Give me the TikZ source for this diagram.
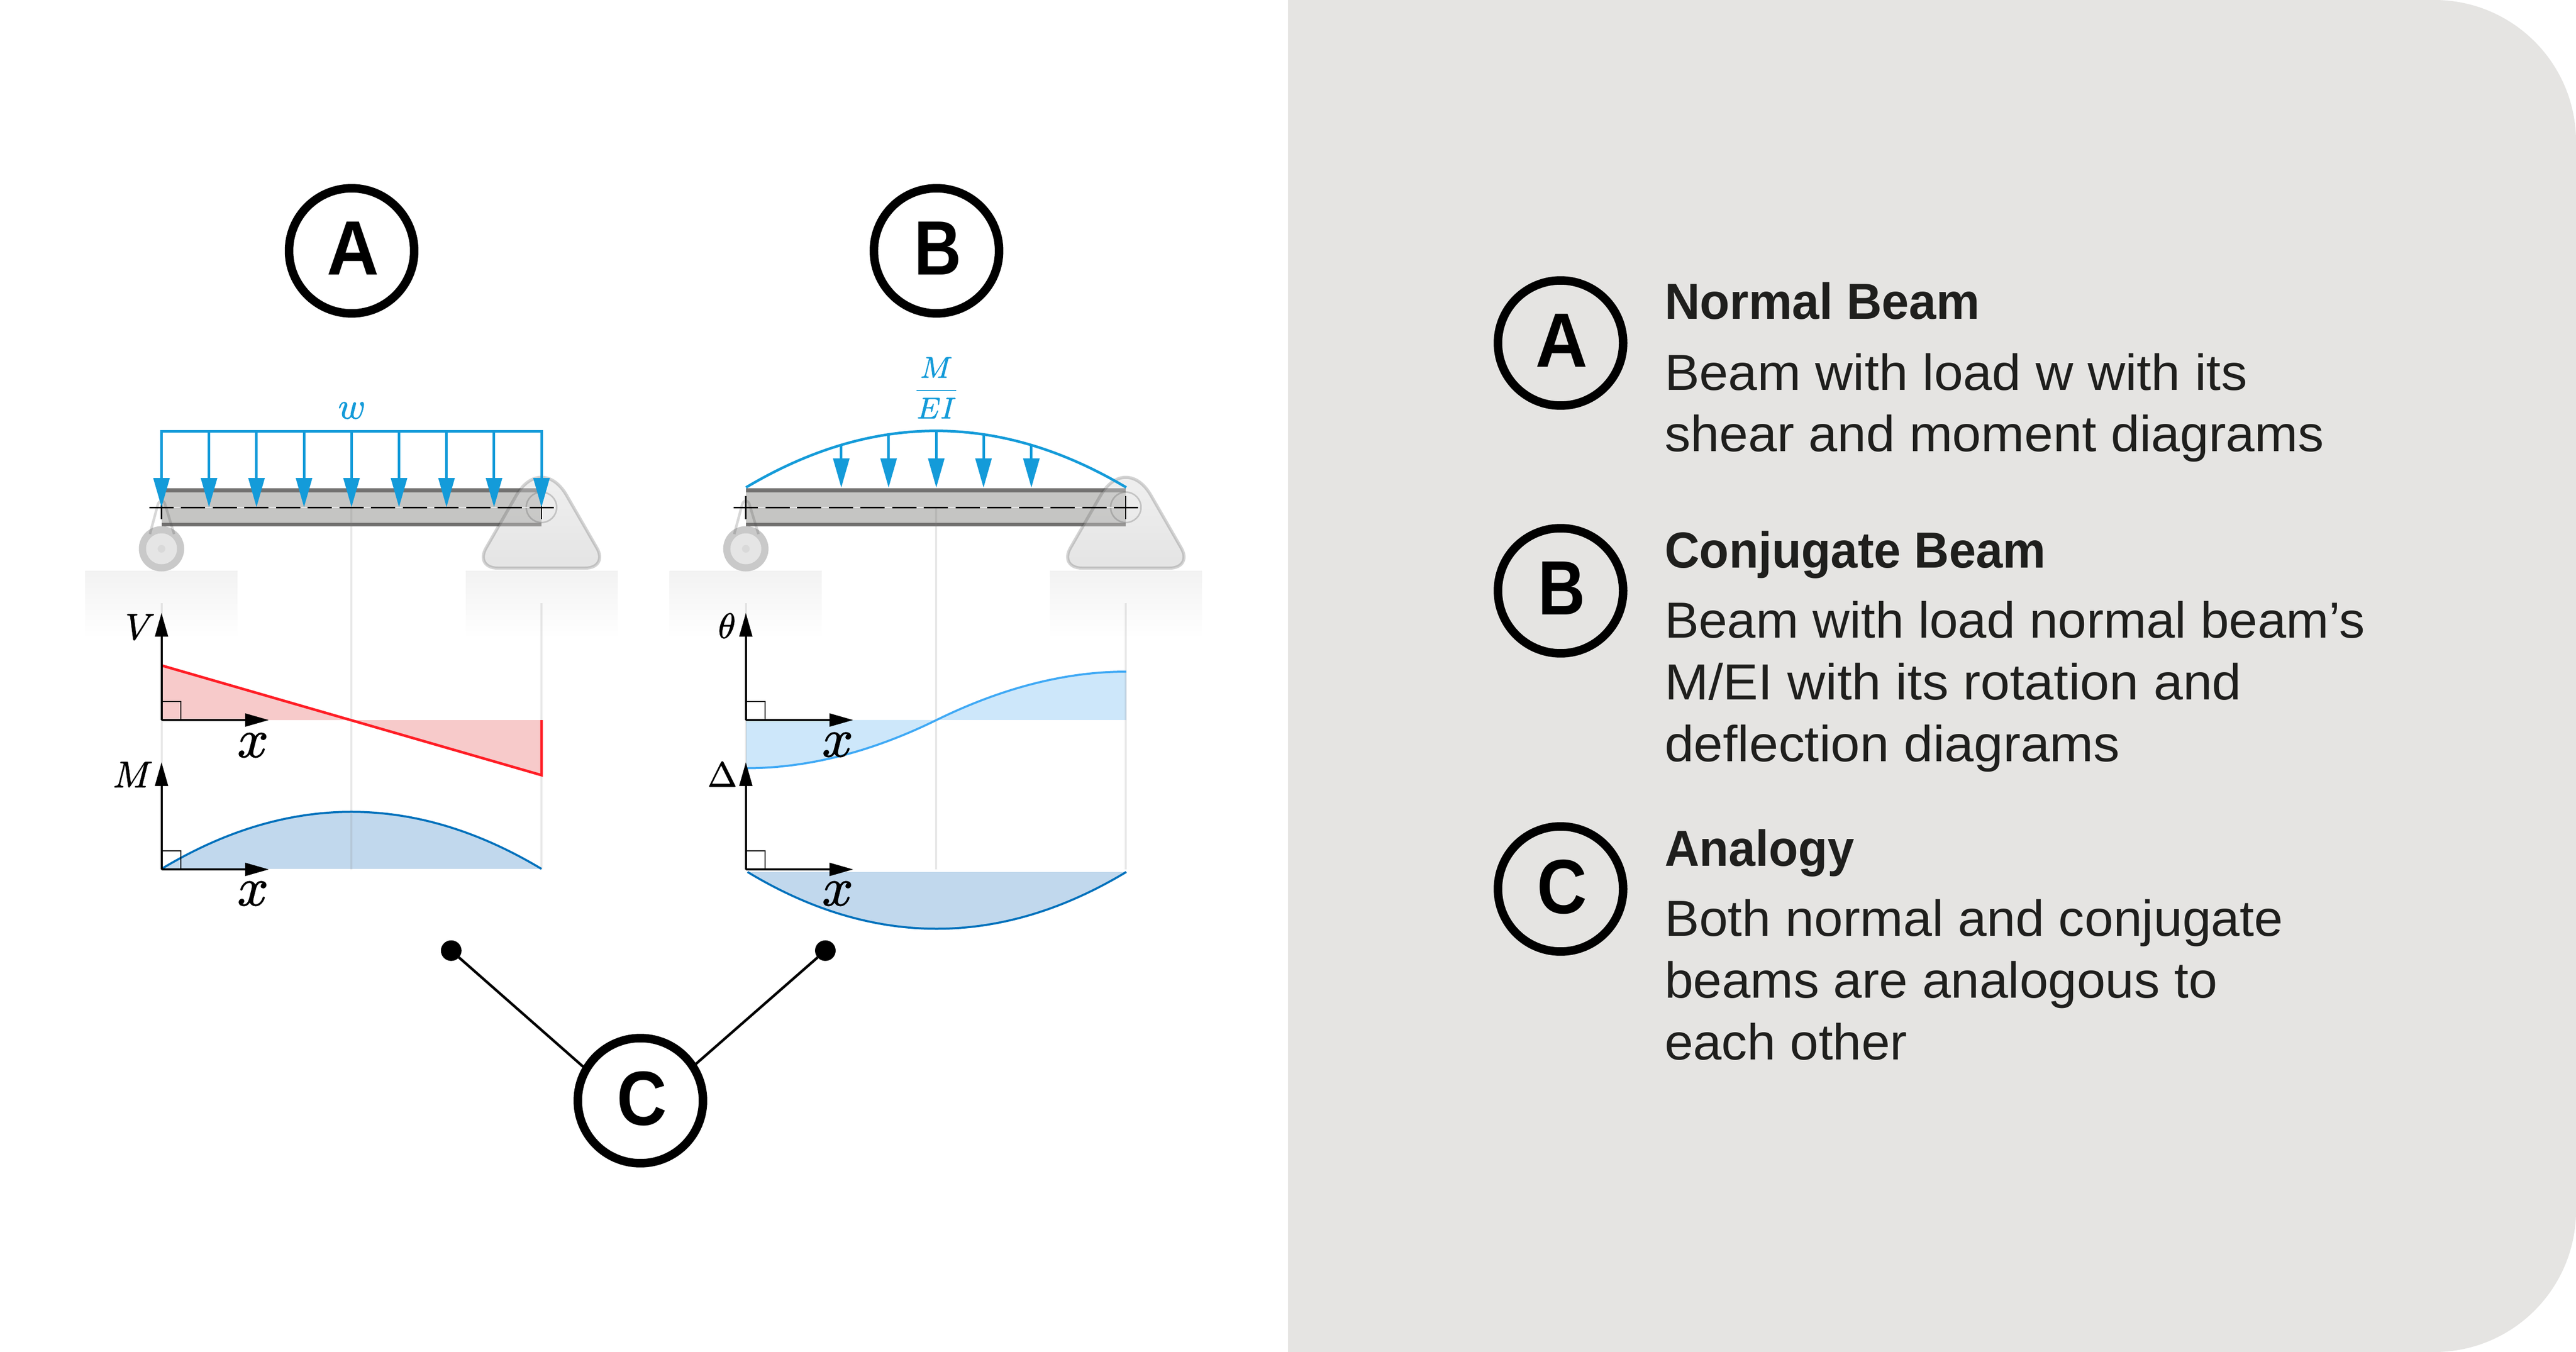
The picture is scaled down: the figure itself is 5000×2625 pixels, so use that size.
\documentclass[tikz,border=0pt]{standalone}
\usepackage[no-math]{fontspec}
\usepackage{graphicx}
\setmainfont{Liberation Sans}
\usetikzlibrary{arrows.meta}
\newlength\pxu
\setlength\pxu{0.56906pt}
\definecolor{panelgrey}{HTML}{E5E4E2}
\definecolor{inkdark}{HTML}{1F1F1D}
\definecolor{loadblue}{HTML}{149BD9}
\definecolor{beamlight}{HTML}{C5C5C3}
\definecolor{beamdark}{HTML}{727170}
\definecolor{shearred}{HTML}{FF1D25}
\definecolor{shearfill}{HTML}{F7CACA}
\definecolor{momblue}{HTML}{0071BC}
\definecolor{momfill}{HTML}{C1D8ED}
\definecolor{rotblue}{HTML}{3FA9F5}
\definecolor{rotfill}{HTML}{CDE7FA}
\tikzset{
  x=0.02cm,y=-0.02cm,
  badge/.style={circle,draw=black,fill=white,line width=16.5\pxu,minimum size=243\pxu,inner sep=0pt,outer sep=0pt,text=black,font=\fontsize{85}{85}\selectfont\bfseries},
  badgeg/.style={badge,fill=none},
  textline/.style={anchor=base west,inner sep=0pt,outer sep=0pt,text=inkdark,font=\fontsize{56}{56}\selectfont},
  headline/.style={textline,font=\fontsize{56}{56}\selectfont\bfseries},
  guide/.style={draw=black!50,draw opacity=.18,line width=4\pxu},
  loadarrow/.style={draw=loadblue,line width=5\pxu,-{Triangle[length=32.4pt,width=17.6pt,fill=loadblue]}},
  axisarrow/.style={draw=black,line width=4\pxu,-{Triangle[length=26.2pt,width=14.2pt,fill=black]}},
  rightsq/.style={draw=black,line width=2\pxu},
  mathlabel/.style={inner sep=0pt,outer sep=0pt},
  groundblock/.style={top color=black!5,bottom color=white,draw=none},
  supportfill/.style={top color=black!14,bottom color=black!25,fill opacity=.41},
  supportedge/.style={draw=black!70,draw opacity=.24,line width=6\pxu},
  dot/.style={circle,fill=black,draw=none,minimum size=40\pxu,inner sep=0pt,outer sep=0pt},
  connector/.style={draw=black,line width=5\pxu},
}
\newcommand\mlab[2]{\scalebox{#1}{\special{pdf:code 2 Tr 0.14 w}$#2$\special{pdf:code 0 Tr}}}
\newcommand\badgeletter[2]{\hspace{3pt}\raisebox{5.7pt}{\scalebox{#1}[1]{#2}}}
\newcommand\supportoutline{(1099.9,962) -- (1158.6,1064) .. controls (1171,1085.6) and (1160.9,1103) .. (1136,1103) -- (966,1103) .. controls (941.1,1103) and (931,1085.6) .. (943.4,1064) -- (1002.1,962) .. controls (1029.1,915) and (1072.9,915) .. (1099.9,962) -- cycle}
% beam, supports and axes of one diagram, in the coordinates of diagram A
\newcommand\beamparts{%
  \shade[groundblock] (165.4,1108) rectangle (460.8,1240);
  \shade[groundblock] (904,1108) rectangle (1199,1240);
  \fill[beamdark] (313.5,948) rectangle (1051,1021.5);
  \fill[beamlight] (313.5,955.6) rectangle (1051,1014.6);
  % roller
  \fill[black!21] (313.5,1065.5) circle[radius=44];
  \fill[black!10] (313.5,1065.5) circle[radius=30];
  \fill[black!15] (313.5,1065.5) circle[radius=7.5];
  \draw[supportedge,draw opacity=.22,line width=5\pxu] (291,1037) -- (306,981) .. controls (308,970) and (319,970) .. (321,981) -- (338,1037);
  % pinned support
  \shade[supportfill] \supportoutline;
  \path[supportedge] \supportoutline;
  \draw[draw=black!70,draw opacity=.25,line width=3\pxu] (1051,985) circle[radius=29.5];
  % guides
  \draw[guide] (682.4,985) -- (682.4,1688);
  \draw[guide] (313.5,1171) -- (313.5,1688);
  \draw[guide] (1051,1171) -- (1051,1688);
  % neutral axis
  \draw[draw=black!8,line width=2\pxu] (290,985) -- (1075,985);
  \draw[draw=black,line width=3\pxu,dash pattern=on 26.75pt off 8.25pt] (290,985) -- (1075,985);
  \draw[draw=black,line width=2.5\pxu] (313.5,963) -- (313.5,1008);
  \draw[draw=black,line width=2.5\pxu] (1051,963) -- (1051,1008);
}
\newcommand\axesparts{%
  \draw[rightsq] (313.5,1398) rectangle (350.5,1362);
  \draw[rightsq] (313.5,1688) rectangle (350.5,1652);
  \draw[axisarrow] (313.5,1398) -- (313.5,1190);
  \draw[axisarrow] (313.5,1398) -- (522,1398);
  \draw[axisarrow] (313.5,1688) -- (313.5,1480);
  \draw[axisarrow] (313.5,1688) -- (522,1688);
}
\begin{document}
\begin{tikzpicture}
\useasboundingbox (0,0) rectangle (5000,2625);
\fill[white] (0,0) rectangle (5000,2625);
% right panel
\fill[panelgrey] (2500,0) -- (4725,0) .. controls (4877,0) and (5000,123) .. (5000,275)
  -- (5000,2350) .. controls (5000,2502) and (4877,2625) .. (4725,2625) -- (2500,2625) -- cycle;

% ---- diagram A fills
\fill[shearfill] (313.5,1292) -- (682.4,1398) -- (313.5,1398) -- cycle;
\fill[shearfill] (682.4,1398) -- (1051,1398) -- (1051,1505) -- cycle;
\fill[momfill] (313.5,1687) .. controls (559,1539.3) and (805,1539.3) .. (1051,1687) -- cycle;
\beamparts
\draw[draw=shearred,line width=5\pxu,line join=miter] (313.5,1292) -- (1051,1505) -- (1051,1398);
\draw[draw=momblue,line width=4\pxu] (313.5,1687) .. controls (559,1539.3) and (805,1539.3) .. (1051,1687);
\axesparts
% load w
\draw[draw=loadblue,line width=5\pxu,line cap=rect] (313.5,837) -- (1051,837);
\foreach \ax in {313.5,405.7,497.9,590.1,682.3,774.5,866.7,958.9,1051}
  \draw[loadarrow] (\ax,837) -- (\ax,985);
\node[mathlabel,text=loadblue] (wlab) at (683,797) {\mlab{4.1}{w}};
\node[mathlabel] (Vlab) at (272,1217) {\mlab{4.1}{V}};
\node[mathlabel] (Mlab) at (258,1504) {\mlab{4.1}{M}};
\node[mathlabel] (xa1) at (491,1447) {\mlab{6}{x}};
\node[mathlabel] (xa2) at (491,1735) {\mlab{6}{x}};

% ---- diagram B fills
\fill[rotfill] (1448,1491.5) .. controls (1590,1491.5) and (1718,1447) .. (1818,1397.8) -- (1448,1397.8) -- cycle;
\fill[rotfill] (1818,1397.8) .. controls (1918,1348.8) and (2046,1304) .. (2186,1304) -- (2186,1397.8) -- cycle;
\fill[momfill] (1451,1693) .. controls (1694,1840) and (1942,1840) .. (2186,1693) -- cycle;
\begin{scope}[xshift=22.688cm]
\beamparts
\end{scope}
\draw[draw=rotblue,line width=4\pxu] (1448,1491.5) .. controls (1590,1491.5) and (1718,1447) .. (1818,1397.8) .. controls (1918,1348.8) and (2046,1304) .. (2186,1304);
\draw[draw=momblue,line width=4\pxu] (1451,1693) .. controls (1694,1840) and (1942,1840) .. (2186,1693);
\begin{scope}[xshift=22.688cm]
\axesparts
\end{scope}
% load M/EI
\draw[draw=loadblue,line width=5\pxu] (1448,946.4) .. controls (1694,800) and (1940,800) .. (2186,946.4);
\draw[loadarrow] (1632.9,864) -- (1632.9,947);
\draw[loadarrow] (1724.8,843.4) -- (1724.8,947);
\draw[loadarrow] (1817.3,836.6) -- (1817.3,947);
\draw[loadarrow] (1909,843.4) -- (1909,947);
\draw[loadarrow] (2001.9,864) -- (2001.9,947);
\node[mathlabel,text=loadblue] (meilab) at (1817.5,753) {\mlab{3.3}{\displaystyle\frac{M}{EI}}};
\node[mathlabel] (tlab) at (1411,1215) {\mlab{3.9}{\theta}};
\node[mathlabel] (dlab) at (1402,1504) {\mlab{3.9}{\Delta}};
\node[mathlabel] (xb1) at (1626,1446) {\mlab{6}{x}};
\node[mathlabel] (xb2) at (1626,1735) {\mlab{6}{x}};

% ---- badges
\node[badge] (bA) at (682.5,487) {\badgeletter{.94}{A}};
\node[badge] (bB) at (1817.7,487) {\badgeletter{.85}{B}};
\node[dot] (d1) at (875.8,1845.7) {};
\node[dot] (d2) at (1602,1845.7) {};
\node[badge] (bC) at (1243,2137) {\badgeletter{.9}{C}};
\draw[connector] (d1) -- (bC.150);
\draw[connector] (d2) -- (bC.33);

\node[badgeg] (kA) at (3029,666) {\badgeletter{.94}{A}};
\node[badgeg] (kB) at (3029,1147) {\badgeletter{.85}{B}};
\node[badgeg] (kC) at (3029,1726) {\badgeletter{.9}{C}};

% ---- legend text
\node[headline] (h1) at (3231,620) {\resizebox{612\pxu}{\height}{Normal Beam}};
\node[textline] (l11) at (3231,757) {\resizebox{1131\pxu}{\height}{Beam with load w with its}};
\node[textline] (l12) at (3231,876.5) {\resizebox{1280\pxu}{\height}{shear and moment diagrams}};
\node[headline] (h2) at (3231,1102) {\resizebox{740\pxu}{\height}{Conjugate Beam}};
\node[textline] (l21) at (3231,1238) {\resizebox{1360\pxu}{\height}{Beam with load normal beam’s}};
\node[textline] (l22) at (3231,1358) {\resizebox{1120\pxu}{\height}{M/EI with its rotation and}};
\node[textline] (l23) at (3231,1478) {\resizebox{884\pxu}{\height}{deflection diagrams}};
\node[headline] (h3) at (3231,1681) {\resizebox{368\pxu}{\height}{Analogy}};
\node[textline] (l31) at (3231,1817) {\resizebox{1201\pxu}{\height}{Both normal and conjugate}};
\node[textline] (l32) at (3231,1937) {\resizebox{1073\pxu}{\height}{beams are analogous to}};
\node[textline] (l33) at (3231,2057) {\resizebox{471\pxu}{\height}{each other}};
\end{tikzpicture}
\end{document}
